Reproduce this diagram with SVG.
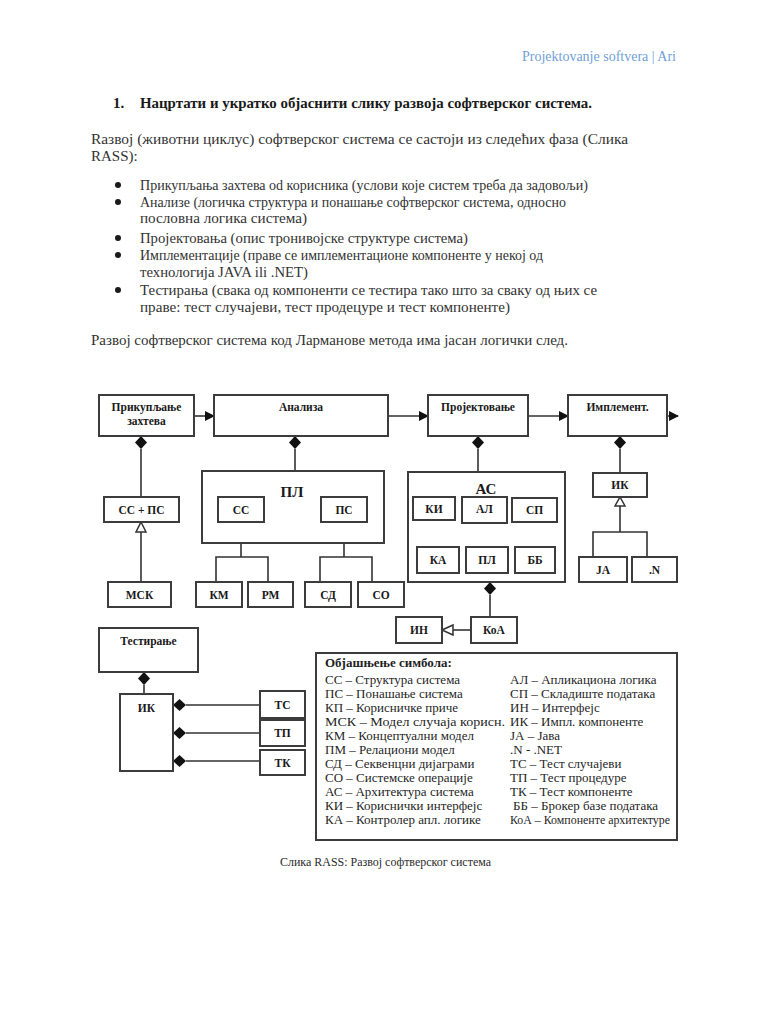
<svg xmlns="http://www.w3.org/2000/svg" width="768" height="1024" viewBox="0 0 768 1024">
<style>
.bg{fill:#ffffff}
.t{font-family:"Liberation Serif","Times New Roman",serif;fill:#333333}
.body{font-size:15px}
.hdr{font-family:"Liberation Serif",serif;font-size:14px;fill:#6f9fd8}
.h1{font-size:15px;font-weight:bold;fill:#1a1a1a}
.box{fill:#ffffff;stroke:#3c3c3c;stroke-width:2}
.lbl{font-family:"Liberation Serif","Times New Roman",serif;font-size:11.5px;font-weight:bold;fill:#1a1a1a;text-anchor:middle}
.big{font-size:15px}
.ln{fill:none;stroke:#333333;stroke-width:1.6}
.dia{fill:#111111;stroke:none}
.tri{fill:#ffffff;stroke:#333333;stroke-width:1.5}
.leg{font-family:"Liberation Serif","Times New Roman",serif;font-size:13px;fill:#1f1f1f}
.cap{font-family:"Liberation Serif","Times New Roman",serif;font-size:11.5px;fill:#2b2b2b}
</style>
<defs>
<marker id="arr" markerWidth="10" markerHeight="10" refX="9" refY="5" orient="auto" markerUnits="userSpaceOnUse">
<path d="M0,0 L10,5 L0,10 Z" fill="#111"/>
</marker>
</defs>
<rect class="bg" x="0" y="0" width="768" height="1024"/>

<g id="page-text">
<text class="hdr" x="676" y="61" text-anchor="end">Projektovanje softvera | Ari</text>
<text class="t h1" x="113" y="108">1.</text>
<text class="t h1" x="140" y="108" textLength="452" lengthAdjust="spacingAndGlyphs">Нацртати и укратко објаснити слику развоја софтверског система.</text>
<text class="t body" x="91" y="144" textLength="537" lengthAdjust="spacingAndGlyphs">Rазвој (животни циклус) софтверског система се састоји из следећих фаза (Слика</text>
<text class="t body" x="91" y="161">RASS):</text>
<g fill="#1a1a1a">
<circle cx="118" cy="185" r="3"/>
<circle cx="118" cy="202" r="3"/>
<circle cx="118" cy="238" r="3"/>
<circle cx="118" cy="255" r="3"/>
<circle cx="118" cy="290" r="3"/>
</g>
<text class="t body" x="140" y="190" textLength="448" lengthAdjust="spacingAndGlyphs">Прикупљања захтева od корисника (услови које систем треба да задовољи)</text>
<text class="t body" x="140" y="207" textLength="426" lengthAdjust="spacingAndGlyphs">Анализе (логичка структура и понашање софтверског система, односно</text>
<text class="t body" x="140" y="223" textLength="167" lengthAdjust="spacingAndGlyphs">пословна логика система)</text>
<text class="t body" x="140" y="243" textLength="328" lengthAdjust="spacingAndGlyphs">Пројектовања (опис тронивојске структуре система)</text>
<text class="t body" x="140" y="260" textLength="403" lengthAdjust="spacingAndGlyphs">Имплементације (праве се имплементационе компоненте у некој од</text>
<text class="t body" x="140" y="277" textLength="168" lengthAdjust="spacingAndGlyphs">технологија JAVA ili .NET)</text>
<text class="t body" x="140" y="295" textLength="457" lengthAdjust="spacingAndGlyphs">Тестирања (свака од компоненти се тестира тако што за сваку од њих се</text>
<text class="t body" x="140" y="312" textLength="370" lengthAdjust="spacingAndGlyphs">праве: тест случајеви, тест продецуре и тест компоненте)</text>
<text class="t body" x="91" y="345" textLength="477" lengthAdjust="spacingAndGlyphs">Развој софтверског система код Ларманове метода има јасан логички след.</text>
</g>

<g id="connectors">
<line class="ln" x1="194" y1="416" x2="214" y2="416" marker-end="url(#arr)"/>
<line class="ln" x1="388" y1="416" x2="428" y2="416" marker-end="url(#arr)"/>
<line class="ln" x1="528" y1="416" x2="568" y2="416" marker-end="url(#arr)"/>
<line class="ln" x1="667" y1="416" x2="678" y2="416" marker-end="url(#arr)"/>
<line class="ln" x1="141" y1="449" x2="141" y2="497"/>
<line class="ln" x1="141" y1="532" x2="141" y2="582"/>
<line class="ln" x1="295" y1="449" x2="295" y2="471"/>
<polyline class="ln" points="241,531 241,557"/>
<polyline class="ln" points="216,582 216,557 268,557 268,582"/>
<polyline class="ln" points="344,531 344,557"/>
<polyline class="ln" points="320,582 320,557 372,557 372,582"/>
<line class="ln" x1="478" y1="449" x2="478" y2="472"/>
<polyline class="ln" points="468,534 468,539 432,539 432,547"/>
<line class="ln" x1="484" y1="534" x2="484" y2="547"/>
<polyline class="ln" points="499,534 499,539 537,539 537,547"/>
<line class="ln" x1="490" y1="595" x2="490" y2="617"/>
<line class="ln" x1="453" y1="630" x2="471" y2="630"/>
<line class="ln" x1="620" y1="449" x2="620" y2="473"/>
<line class="ln" x1="620" y1="506" x2="620" y2="532"/>
<polyline class="ln" points="593,557 593,532 647,532 647,557"/>
<line class="ln" x1="144" y1="685" x2="144" y2="694"/>
<line class="ln" x1="186" y1="705" x2="260" y2="705"/>
<line class="ln" x1="186" y1="733" x2="260" y2="733"/>
<line class="ln" x1="186" y1="761" x2="260" y2="761"/>
<polygon class="dia" points="141,436 147,442.5 141,449 135,442.5"/>
<polygon class="dia" points="295,436 301,442.5 295,449 289,442.5"/>
<polygon class="dia" points="478,436 484,442.5 478,449 472,442.5"/>
<polygon class="dia" points="620,436 626,442.5 620,449 614,442.5"/>
<polygon class="dia" points="468,523 473.5,528.5 468,534 462.5,528.5"/>
<polygon class="dia" points="484,523 489.5,528.5 484,534 478.5,528.5"/>
<polygon class="dia" points="499,523 504.5,528.5 499,534 493.5,528.5"/>
<polygon class="dia" points="490,582 496,588.5 490,595 484,588.5"/>
<polygon class="dia" points="144,672 150,678.5 144,685 138,678.5"/>
<polygon class="dia" points="173,705 179.5,699 186,705 179.5,711"/>
<polygon class="dia" points="173,733 179.5,727 186,733 179.5,739"/>
<polygon class="dia" points="173,761 179.5,755 186,761 179.5,767"/>
<polygon class="tri" points="141,522 146,532 136,532"/>
<polygon class="tri" points="241,522 246,531 236,531"/>
<polygon class="tri" points="344,522 349,531 339,531"/>
<polygon class="tri" points="620,497 625,506 615,506"/>
<polygon class="tri" points="442,630 453,625 453,635"/>
</g>

<g id="n-prikupljanje"><rect class="box" x="99" y="395" width="95" height="41"/><text class="lbl" x="146.5" y="411">Прикупљање</text><text class="lbl" x="146.5" y="425">захтева</text></g>
<g id="n-analiza"><rect class="box" x="214" y="395" width="174" height="41"/><text class="lbl" x="301" y="411">Анализа</text></g>
<g id="n-projektovanje"><rect class="box" x="428" y="395" width="100" height="41"/><text class="lbl" x="478" y="411">Пројектовање</text></g>
<g id="n-implement"><rect class="box" x="568" y="395" width="99" height="41"/><text class="lbl" x="617.5" y="411">Имплемент.</text></g>

<g id="n-ccps"><rect class="box" x="104" y="497" width="75" height="25"/><text class="lbl" x="141.5" y="514">СС + ПС</text></g>
<g id="n-msk"><rect class="box" x="108" y="582" width="63" height="25"/><text class="lbl" x="139.5" y="599">МСК</text></g>

<g id="n-pl"><rect class="box" x="202" y="471" width="182" height="72"/><text class="lbl big" x="292" y="497">ПЛ</text></g>
<g id="n-cc"><rect class="box" x="218" y="497" width="46" height="25"/><text class="lbl" x="241" y="514">СС</text></g>
<g id="n-ps"><rect class="box" x="321" y="497" width="46" height="25"/><text class="lbl" x="344" y="514">ПС</text></g>
<g id="n-km"><rect class="box" x="196" y="582" width="46" height="25"/><text class="lbl" x="219" y="599">КМ</text></g>
<g id="n-rm"><rect class="box" x="248" y="582" width="45" height="25"/><text class="lbl" x="270.5" y="599">РМ</text></g>
<g id="n-sd"><rect class="box" x="305" y="582" width="46" height="25"/><text class="lbl" x="328" y="599">СД</text></g>
<g id="n-so"><rect class="box" x="358" y="582" width="46" height="25"/><text class="lbl" x="381" y="599">СО</text></g>

<g id="n-as"><rect class="box" x="408" y="472" width="157" height="110"/><text class="lbl big" x="486" y="494">АС</text></g>
<g id="n-ki"><rect class="box" x="413" y="497" width="42" height="23"/><text class="lbl" x="434" y="513">КИ</text></g>
<g id="n-al"><rect class="box" x="462" y="497" width="45" height="26"/><text class="lbl" x="484.5" y="513">АЛ</text></g>
<g id="n-sp"><rect class="box" x="512" y="498" width="45" height="24"/><text class="lbl" x="534.5" y="514">СП</text></g>
<g id="n-ka"><rect class="box" x="417" y="547" width="42" height="26"/><text class="lbl" x="438" y="564">КА</text></g>
<g id="n-pl2"><rect class="box" x="466" y="547" width="42" height="26"/><text class="lbl" x="487" y="564">ПЛ</text></g>
<g id="n-bb"><rect class="box" x="515" y="547" width="40" height="26"/><text class="lbl" x="535" y="564">ББ</text></g>
<g id="n-koa"><rect class="box" x="471" y="617" width="46" height="26"/><text class="lbl" x="494" y="634">КоА</text></g>
<g id="n-in"><rect class="box" x="396" y="617" width="46" height="26"/><text class="lbl" x="419" y="634">ИН</text></g>

<g id="n-ik"><rect class="box" x="593" y="473" width="54" height="24"/><text class="lbl" x="620" y="489">ИК</text></g>
<g id="n-ja"><rect class="box" x="579" y="557" width="48" height="25"/><text class="lbl" x="603" y="574">ЈА</text></g>
<g id="n-net"><rect class="box" x="632" y="557" width="45" height="25"/><text class="lbl" x="654.5" y="574">.N</text></g>

<g id="n-testiranje"><rect class="box" x="99" y="628" width="99" height="44"/><text class="lbl" x="148.5" y="645">Тестирање</text></g>
<g id="n-ik2"><rect class="box" x="120" y="694" width="53" height="77"/><text class="lbl" x="146.5" y="712">ИК</text></g>
<g id="n-tc"><rect class="box" x="260" y="691" width="45" height="27"/><text class="lbl" x="282.5" y="709">ТС</text></g>
<g id="n-tp"><rect class="box" x="260" y="720" width="45" height="26"/><text class="lbl" x="282.5" y="737">ТП</text></g>
<g id="n-tk"><rect class="box" x="260" y="750" width="45" height="25"/><text class="lbl" x="282.5" y="767">ТК</text></g>

<g id="legend">
<rect class="box" x="316" y="653" width="361" height="187"/>
<text class="leg" x="325" y="667" font-weight="bold">Објашњење симбола:</text>
<g class="leg">
<text x="325" y="684">СС – Структура система</text>
<text x="325" y="698">ПС – Понашање система</text>
<text x="325" y="712">КП – Корисничке приче</text>
<text x="325" y="726" textLength="180" lengthAdjust="spacingAndGlyphs">МСК – Модел случаја корисн.</text>
<text x="325" y="740">КМ – Концептуални модел</text>
<text x="325" y="754">ПМ – Релациони модел</text>
<text x="325" y="768">СД – Секвенцни дијаграми</text>
<text x="325" y="782">СО – Системске операције</text>
<text x="325" y="796">АС – Архитектура система</text>
<text x="325" y="810">КИ – Кориснички интерфејс</text>
<text x="325" y="824">КА – Контролер апл. логике</text>
<text x="510" y="684">АЛ – Апликациона логика</text>
<text x="510" y="698">СП – Складиште података</text>
<text x="510" y="712">ИН – Интерфејс</text>
<text x="510" y="726">ИК – Импл. компоненте</text>
<text x="510" y="740">ЈА – Јава</text>
<text x="510" y="754">.N - .NET</text>
<text x="510" y="768">ТС – Тест случајеви</text>
<text x="510" y="782">ТП – Тест процедуре</text>
<text x="510" y="796">ТК – Тест компоненте</text>
<text x="513" y="810">ББ – Брокер базе података</text>
<text x="510" y="824" textLength="160" lengthAdjust="spacingAndGlyphs">КоА – Компоненте архитектуре</text>
</g>
</g>

<text class="cap" x="280" y="866" textLength="211" lengthAdjust="spacingAndGlyphs">Слика RASS:  Развој софтверског система</text>
</svg>
